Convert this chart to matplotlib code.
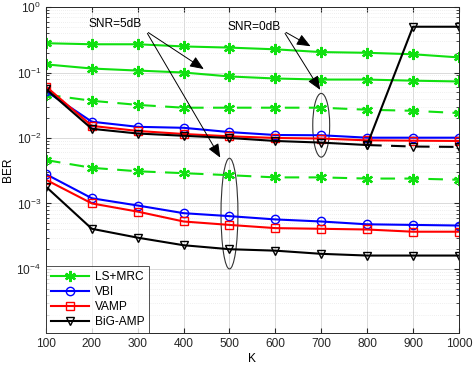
import matplotlib
matplotlib.use('Agg')
import matplotlib.pyplot as plt
from matplotlib.patches import Ellipse
import numpy as np

plt.rcParams['font.family'] = ['Liberation Sans', 'DejaVu Sans']
plt.rcParams['font.size'] = 8.6
plt.rcParams['lines.dashed_pattern'] = [7, 4.5]

K = [100, 200, 300, 400, 500, 600, 700, 800, 900, 1000]

# LS+MRC, solid and dashed, two SNRs
ls_solid_0db = [0.28, 0.27, 0.27, 0.25, 0.24, 0.226, 0.205, 0.20, 0.19, 0.17]
ls_solid_5db = [0.133, 0.115, 0.107, 0.10, 0.087, 0.081, 0.078, 0.078, 0.075, 0.073]
ls_dash_0db = [0.046, 0.037, 0.032, 0.029, 0.029, 0.029, 0.029, 0.027, 0.026, 0.024]
ls_dash_5db = [0.0046, 0.0035, 0.0031, 0.0029, 0.0027, 0.0025, 0.0025, 0.0024, 0.0024, 0.0023]

# SNR = 0dB
vbi_0db = [0.052, 0.0177, 0.0148, 0.0143, 0.0123, 0.0111, 0.011, 0.0101, 0.0101, 0.0101]
vamp_0db = [0.061, 0.0153, 0.0128, 0.0115, 0.0106, 0.0100, 0.0098, 0.0092, 0.0091, 0.0090]
bigamp_0db = [0.056, 0.0138, 0.0117, 0.0108, 0.0100, 0.0090, 0.0085, 0.0078, 0.5, 0.5]
K_tail = [800, 900, 1000]
bigamp_0db_tail = [0.0078, 0.0074, 0.0073]

# SNR = 5dB
vbi_5db = [0.0028, 0.0012, 0.00093, 0.00071, 0.00064, 0.00057, 0.00053, 0.00048, 0.00047, 0.00046]
vamp_5db = [0.0023, 0.0010, 0.00075, 0.00053, 0.00047, 0.00042, 0.00041, 0.00040, 0.00037, 0.00037]
bigamp_5db = [0.0018, 0.00041, 0.00030, 0.00023, 0.00020, 0.00019, 0.00017, 0.00016, 0.00016, 0.00016]

green = '#10e010'
lw = 1.5
ms = 6
ast = dict(marker=(6, 2, 0), ms=8, mew=1.6)

fig = plt.figure(figsize=(4.74, 3.70), dpi=100)
ax = fig.add_axes([0.097, 0.1, 0.871, 0.881])

ax.plot(K, ls_solid_0db, '-', color=green, lw=lw, label='LS+MRC', **ast)
ax.plot(K, ls_solid_5db, '-', color=green, lw=lw, **ast)
ax.plot(K, ls_dash_0db, '--', color=green, lw=lw, **ast)
ax.plot(K, ls_dash_5db, '--', color=green, lw=lw, **ast)

ax.plot(K, vbi_0db, '-', color='b', marker='o', mfc='none', lw=lw, ms=ms, label='VBI')
ax.plot(K, vamp_0db, '-', color='r', marker='s', mfc='none', lw=lw, ms=ms - 0.5, label='VAMP')
ax.plot(K, bigamp_0db, '-', color='k', marker='v', mfc='none', lw=lw, ms=ms, label='BiG-AMP')
ax.plot(K_tail, bigamp_0db_tail, '--', color='k', marker='v', mfc='none', lw=lw, ms=ms)

ax.plot(K, vbi_5db, '-', color='b', marker='o', mfc='none', lw=lw, ms=ms)
ax.plot(K, vamp_5db, '-', color='r', marker='s', mfc='none', lw=lw, ms=ms - 0.5)
ax.plot(K, bigamp_5db, '-', color='k', marker='v', mfc='none', lw=lw, ms=ms)

ax.set_yscale('log')
ax.set_xlim(100, 1000)
ax.set_ylim(1.05e-5, 1)
ax.set_xticks(K)
ax.set_yticks([1e-4, 1e-3, 1e-2, 1e-1, 1])
ax.set_xlabel('K', labelpad=2)
ax.set_ylabel('BER', labelpad=2)
ax.tick_params(which='both', direction='in', top=True, right=True, colors='#262626', labelcolor='#262626')
ax.tick_params(which='major', length=3.5)
ax.tick_params(which='minor', length=2)
ax.grid(True, which='major', color='#d4d4d4', lw=0.6)
ax.grid(True, which='minor', color='#e0e0e0', lw=0.5, ls=(0, (1, 2)))
ax.set_axisbelow(True)
for s in ax.spines.values():
    s.set_color('#262626')
    s.set_linewidth(0.7)

# annotations
arr = dict(arrowstyle='-|>,head_length=0.6,head_width=0.25', color='k', lw=0.7, mutation_scale=14)
ax.text(251, 0.55, 'SNR=5dB', ha='center', va='center')
ax.annotate('', xy=(449, 0.107), xytext=(318, 0.43), arrowprops=arr)
ax.annotate('', xy=(483, 0.0046), xytext=(318, 0.43), arrowprops=arr)
ax.text(553, 0.5, 'SNR=0dB', ha='center', va='center')
ax.annotate('', xy=(682, 0.24), xytext=(618, 0.43), arrowprops=arr)
ax.annotate('', xy=(701, 0.05), xytext=(618, 0.43), arrowprops=arr)

to_ax = ax.transData + ax.transAxes.inverted()
for xc, ylo, yhi in [(500, 1.0e-4, 4.9e-3), (700, 5.1e-3, 0.048)]:
    (x0, y0) = to_ax.transform((xc, ylo))
    (_, y1) = to_ax.transform((xc, yhi))
    ax.add_patch(Ellipse(((x0), (y0 + y1) / 2), 0.041, y1 - y0, transform=ax.transAxes,
                         fill=False, ec='#333333', lw=0.8))

leg = ax.legend(loc='lower left', borderaxespad=0, fancybox=False, edgecolor='#262626',
                handlelength=3.2, labelspacing=0.25, borderpad=0.4, handletextpad=0.5)
leg.get_frame().set_linewidth(0.7)

fig.savefig('out.png', dpi=100)
